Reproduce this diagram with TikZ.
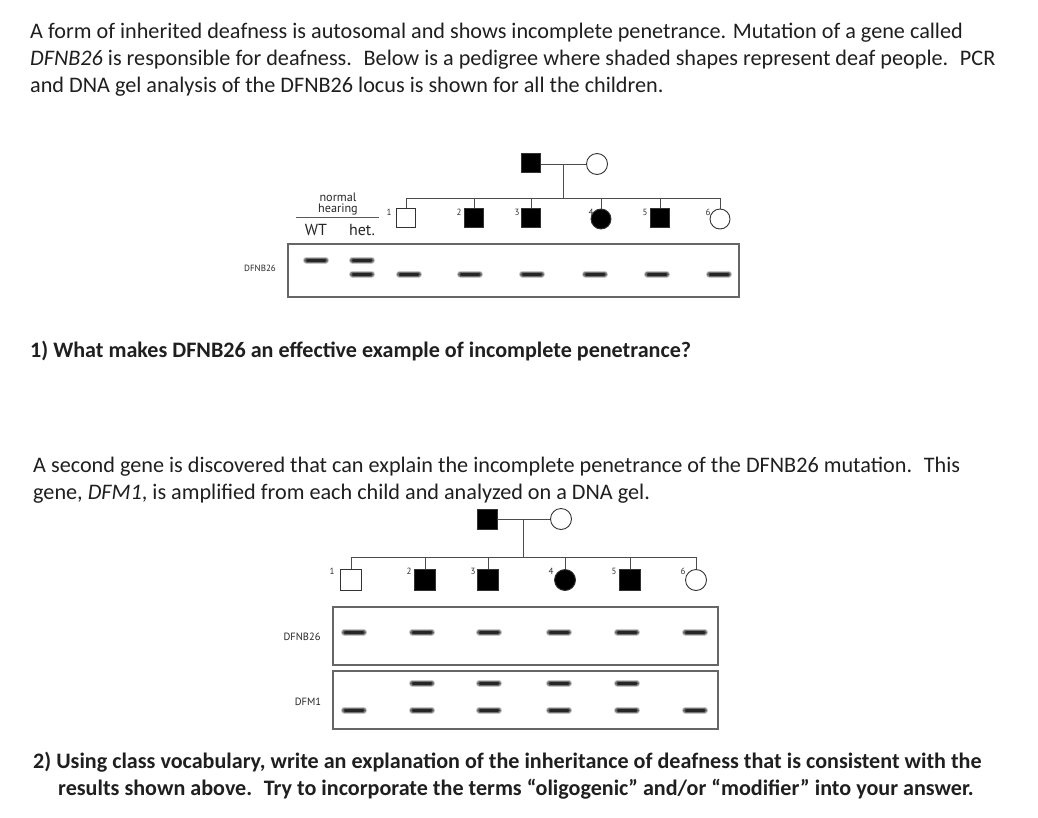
\documentclass[tikz,border=0pt]{standalone}
\usepackage{fontspec}
\setmainfont{Carlito}
\newfontfamily\lblfont{PT Sans}
\tikzset{
  txt/.style={anchor=base west, inner sep=0pt, font=\fontsize{22.2}{26}\selectfont, text=black!88},
  btxt/.style={txt, font=\fontsize{22.1}{26}\selectfont\bfseries},
  conn/.style={line width=1pt, draw=black!70},
  msq/.style={rectangle, draw=black!80, line width=0.9pt, inner sep=0pt, minimum size=#1},
  fcirc/.style={circle, draw=black!80, line width=0.9pt, inner sep=0pt, minimum size=#1},
  aff/.style={fill=black},
  unaff/.style={fill=white},
  num/.style={inner sep=0pt, font=\lblfont\fontsize{9}{9}\selectfont, text=black!80},
  glabel/.style={inner sep=0pt, font=\lblfont\fontsize{#1}{#1}\selectfont, text=black!85},
  gelbox/.style={draw=black!60, line width=1.2pt},
  bandA/.style={line cap=round, line width=7pt, draw=black!22},
  bandB/.style={line cap=round, line width=5pt, draw=black!55},
  bandC/.style={line cap=round, line width=3pt, draw=black!85},
}
\newcommand\gband[2]{%
  \draw[bandA] ({#1-9.5},#2) -- ({#1+9.5},#2);
  \draw[bandB] ({#1-9.5},#2) -- ({#1+9.5},#2);
  \draw[bandC] ({#1-9},#2) -- ({#1+9},#2);}
\begin{document}
\begin{tikzpicture}[x=1pt, y=-1pt]
\useasboundingbox[fill=white] (0,0) rectangle (1038,817);

% ---------- text ----------
\node[txt] (p1a) at (30,38) {A form of inherited deafness is autosomal and shows incomplete penetrance. Mutation of a gene called};
\node[txt] (p1b) at (30,65) {\textit{DFNB26} is responsible for deafness.~ Below is a pedigree where shaded shapes represent deaf people.~ PCR};
\node[txt] (p1c) at (30,92) {and DNA gel analysis of the DFNB26 locus is shown for all the children.};
\node[btxt] (q1) at (30,357) {1) What makes DFNB26 an effective example of incomplete penetrance?};
\node[txt] (p2a) at (33,472) {A second gene is discovered that can explain the incomplete penetrance of the DFNB26 mutation.~ This};
\node[txt] (p2b) at (33,499) {gene, \textit{DFM1}, is amplified from each child and analyzed on a DNA gel.};
\node[btxt] (q2a) at (33,768) {2) Using class vocabulary, write an explanation of the inheritance of deafness that is consistent with the};
\node[btxt] (q2b) at (58,795) {results shown above.~ Try to incorporate the terms “oligogenic” and/or “modifier” into your answer.};

% ---------- top pedigree ----------
\node[msq=19pt, aff] (F1) at (531,163) {};
\node[fcirc=21pt, unaff] (M1) at (597,164) {};
\coordinate (m1) at (563,164);
\coordinate (d1) at (563,198);
\draw[conn] (F1.east |- m1) -- (M1.west);
\draw[conn] (m1) -- (d1);
\foreach \i/\x in {1/406,2/474,3/531,4/601,5/660,6/720}{
  \coordinate (s1\i) at (\x,198);
}
\node[msq=19pt, unaff] (c11) at (406,218) {};
\node[msq=19pt, aff]   (c12) at (474,218) {};
\node[msq=19pt, aff]   (c13) at (531,218) {};
\node[fcirc=20pt, aff] (c14) at (601,219) {};
\node[msq=19pt, aff]   (c15) at (660,218) {};
\node[fcirc=20pt, unaff] (c16) at (720,219) {};
\draw[conn] (s11) -- (s16);
\foreach \i in {1,...,6}{\draw[conn] (s1\i) -- (c1\i.north);}
\foreach \i/\x in {1/389,2/459,3/517,4/591,5/645,6/708}{
  \node[num] (n1\i) at (\x,212) {\i};
}
\node[inner sep=0pt, align=center, font=\lblfont\fontsize{12.2}{10.5}\selectfont, text=black!85] (nh) at (338,204) {normal\\hearing};
\draw[line width=0.8pt, draw=black!65] (296,217) -- (379,217);
\node[glabel=16] (wt) at (316,230) {WT};
\node[glabel=16] (het) at (362,230) {het.};
\draw[gelbox] (288,244) rectangle (739,297);
\node[glabel=9] (lab1) at (260,268) {DFNB26};
\gband{316}{260}
\gband{362}{260}
\foreach \x in {362,409,470,532,595,657,719}{\gband{\x}{274}}

% ---------- second pedigree ----------
\node[msq=20pt, aff] (F2) at (487,519) {};
\node[fcirc=21pt, unaff] (M2) at (561,519) {};
\coordinate (m2) at (523,519);
\coordinate (d2) at (523,557);
\draw[conn] (F2.east) -- (M2.west);
\draw[conn] (m2) -- (d2);
\foreach \i/\x in {1/351,2/425,3/488,4/565,5/630,6/696}{
  \coordinate (s2\i) at (\x,557);
}
\node[msq=21pt, unaff] (c21) at (351,579.5) {};
\node[msq=21pt, aff]   (c22) at (425,579.5) {};
\node[msq=21pt, aff]   (c23) at (488,579.5) {};
\node[fcirc=21pt, aff] (c24) at (565,580) {};
\node[msq=21pt, aff]   (c25) at (630,579.5) {};
\node[fcirc=21pt, unaff] (c26) at (696,580) {};
\draw[conn] (s21) -- (s26);
\foreach \i in {1,...,6}{\draw[conn] (s2\i) -- (c2\i.north);}
\foreach \i/\x in {1/332,2/409,3/473,4/551,5/614,6/683}{
  \node[num] (n2\i) at (\x,571) {\i};
}
\draw[gelbox] (333,607) rectangle (718,665);
\draw[gelbox] (333,671) rectangle (718,729);
\node[glabel=10.5] (lab2) at (302,637) {DFNB26};
\node[glabel=10.5] (lab3) at (308,702) {DFM1};
\foreach \x in {354,422,489,559,627,695}{\gband{\x}{632}}
\foreach \x in {422,489,559,627}{\gband{\x}{683}}
\foreach \x in {354,422,489,559,627,695}{\gband{\x}{710}}
\end{tikzpicture}
\end{document}
